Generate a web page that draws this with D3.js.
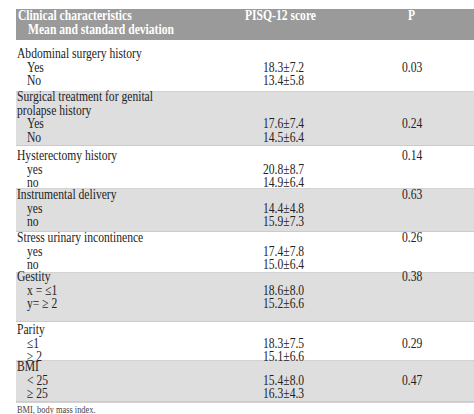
<!DOCTYPE html>
<html><head><meta charset="utf-8">
<script src="https://cdn.jsdelivr.net/npm/d3@7"></script>
<style>body{margin:0;background:#fff}</style>
</head><body><div class="main"></div>
<script>
// Table contents
let titles = [["Abdominal surgery history"], ["Surgical treatment for genital", "prolapse history"],
    ["Hysterectomy history"], ["Instrumental delivery"], ["Stress urinary incontinence"],
    ["Gestity"], ["Parity"], ["BMI"]];
let subLabels = [["Yes", "No"], ["Yes", "No"], ["yes", "no"], ["yes", "no"], ["yes", "no"],
    ["x = \u22641", "y= \u2265 2"], ["\u22641", "\u2265 2"], ["< 25", "\u2265 25"]];
let scores = [["18.3\u00b17.2", "13.4\u00b15.8"], ["17.6\u00b17.4", "14.5\u00b16.4"], ["20.8\u00b18.7", "14.9\u00b16.4"],
    ["14.4\u00b14.8", "15.9\u00b17.3"], ["17.4\u00b17.8", "15.0\u00b16.4"], ["18.6\u00b18.0", "15.2\u00b16.6"],
    ["18.3\u00b17.5", "15.1\u00b16.6"], ["15.4\u00b18.0", "16.3\u00b14.3"]];
let pValues = ["0.03", "0.24", "0.14", "0.63", "0.26", "0.38", "0.29", "0.47"];
let pOnTitle = [false, false, true, true, true, true, false, false];

// layout
let bandTop = [44, 92, 146, 189, 232, 273, 322, 361], tableBottom = 402;
let firstLine = [54, 97, 156, 195, 238, 277, 330, 367];
let step = 13.5;
let sx = 0.8; // condensed look

let svg = d3.select("div.main").append("svg").attr("width", 474).attr("height", 414);

// header band
svg.append("rect").attr("x", 16).attr("y", 9).attr("width", 458).attr("height", 31).attr("fill", "#9a9a9a");

bandTop.forEach(function(t, i) {
    let b = i < bandTop.length - 1 ? bandTop[i + 1] : tableBottom;
    svg.append("rect").attr("x", 16).attr("y", t).attr("width", 458).attr("height", b - t)
        .attr("fill", i % 2 ? "#dedede" : "#fff");
    svg.append("line").attr("x1", 16).attr("x2", 474).attr("y1", b).attr("y2", b)
        .attr("stroke", "#c4c4c4").attr("stroke-width", 1.5);
});

function txt(x, y, s, opts) {
    opts = opts || {};
    svg.append("text")
        .attr("transform", "translate(" + x + "," + (y + 4) + ") scale(" + sx + ",1)")
        .attr("font-family", "Liberation Serif, serif")
        .attr("font-size", opts.size || 14.5)
        .attr("font-weight", opts.bold ? "bold" : "normal")
        .attr("fill", opts.fill || "#222")
        .text(s);
}

txt(18, 16, "Clinical characteristics", {bold: true, fill: "#fff"});
txt(28, 30, "Mean and standard deviation", {bold: true, fill: "#fff"});
txt(245, 16, "PISQ-12 score", {bold: true, fill: "#fff"});
txt(408, 16, "P", {bold: true, fill: "#fff"});

titles.forEach(function(t, i) {
    let y = firstLine[i];
    t.forEach(function(line, j) { txt(17, y + j * step, line); });
    let subY = y + t.length * step;
    subLabels[i].forEach(function(s, j) {
        txt(27, subY + j * step, s);
        txt(263, subY + j * step, scores[i][j]);
    });
    txt(402, pOnTitle[i] ? y : subY, pValues[i]);
});

txt(17, 409, "BMI, body mass index.", {size: 10.5, fill: "#444"});
</script>
</body></html>
